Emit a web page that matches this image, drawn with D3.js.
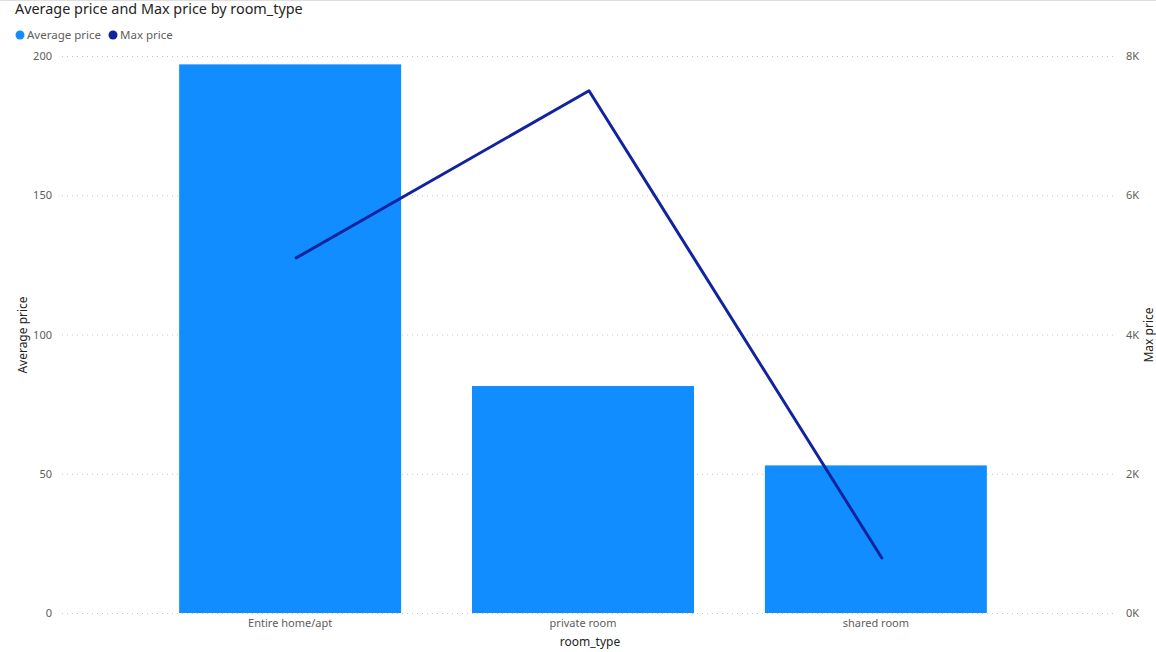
<!DOCTYPE html>
<html>
<head>
<meta charset="utf-8">
<title>Average price and Max price by room_type</title>
<script src="https://cdn.jsdelivr.net/npm/d3@7"></script>
<style>
  body { margin: 0; background: #fff; font-family: "Segoe UI", "Noto Sans", "Open Sans", sans-serif; }
  svg text { font-family: "Segoe UI", "Noto Sans", "Open Sans", sans-serif; }
  .tick text { fill: #605E5C; font-size: 11px; }
  .grid line { stroke: #C8C6C4; stroke-dasharray: 1 4; }
</style>
</head>
<body>
<div id="chart"></div>
<script>
// data
var roomTypes = ["Entire home/apt", "private room", "shared room"];
var avgPrice = [197, 81.5, 53];
var maxPrice = [5100, 7500, 790];
var avgTicks = [0, 50, 100, 150, 200];
var maxTicks = [0, 2000, 4000, 6000, 8000];

var W = 1156, H = 652;
var plotLeft = 62, plotRight = 1117, plotTop = 56, plotBottom = 613;

var svg = d3.select("#chart").append("svg")
  .attr("width", W)
  .attr("height", H);

// top border
svg.append("line")
  .attr("x1", 0).attr("x2", W).attr("y1", 0.5).attr("y2", 0.5)
  .attr("stroke", "#E1DFDD");

var x = d3.scaleBand()
  .domain(roomTypes)
  .range([plotLeft, 1104])
  .paddingInner(0.242)
  .paddingOuter(0.4);

var yL = d3.scaleLinear().domain([0, 200]).range([plotBottom, plotTop]);
var yR = d3.scaleLinear().domain([0, 8000]).range([plotBottom, plotTop]);

// gridlines
svg.append("g").attr("class", "grid")
  .selectAll("line")
  .data(avgTicks)
  .enter().append("line")
  .attr("x1", plotLeft).attr("x2", plotRight)
  .attr("y1", function(d) { return yL(d) + 0.5; })
  .attr("y2", function(d) { return yL(d) + 0.5; });

// bars
svg.selectAll(".bar")
  .data(roomTypes)
  .enter().append("rect")
  .attr("class", "bar")
  .attr("x", function(d) { return x(d); })
  .attr("width", x.bandwidth())
  .attr("y", function(d, i) { return yL(avgPrice[i]); })
  .attr("height", function(d, i) { return plotBottom - yL(avgPrice[i]); })
  .attr("fill", "#118DFF");

// line
var line = d3.line()
  .x(function(d, i) { return x(roomTypes[i]) + x.bandwidth() / 2 + 6; })
  .y(function(d) { return yR(d); });

svg.append("path")
  .datum(maxPrice)
  .attr("d", line)
  .attr("fill", "none")
  .attr("stroke", "#12239E")
  .attr("stroke-width", 3)
  .attr("stroke-linejoin", "round")
  .attr("stroke-linecap", "round");

// axes
var leftAxis = svg.append("g")
  .attr("transform", "translate(52,0)")
  .call(d3.axisLeft(yL).tickValues(avgTicks).tickSize(0).tickPadding(0));
leftAxis.select(".domain").remove();

var rightAxis = svg.append("g")
  .attr("transform", "translate(1126,0)")
  .call(d3.axisRight(yR).tickValues(maxTicks).tickSize(0).tickPadding(0)
    .tickFormat(function(d) { return (d / 1000) + "K"; }));
rightAxis.select(".domain").remove();

var bottomAxis = svg.append("g")
  .attr("transform", "translate(0," + (plotBottom + 4) + ")")
  .call(d3.axisBottom(x).tickSize(0).tickPadding(0));
bottomAxis.select(".domain").remove();
bottomAxis.selectAll("text").attr("dy", "0.9em");

svg.selectAll(".tick text").style("font-family", null);

// axis titles
svg.append("text")
  .attr("x", 590).attr("y", 646)
  .attr("text-anchor", "middle")
  .attr("fill", "#252423")
  .style("font-size", "12px")
  .text("room_type");

svg.append("text")
  .attr("transform", "translate(27,335) rotate(-90)")
  .attr("text-anchor", "middle")
  .attr("fill", "#252423")
  .style("font-size", "12px")
  .text("Average price");

svg.append("text")
  .attr("transform", "translate(1153,335) rotate(-90)")
  .attr("text-anchor", "middle")
  .attr("fill", "#252423")
  .style("font-size", "12px")
  .text("Max price");

// title
svg.append("text")
  .attr("x", 15).attr("y", 14)
  .attr("fill", "#252423")
  .style("font-size", "14.4px")
  .text("Average price and Max price by room_type");

// legend
var legendNames = ["Average price", "Max price"];
var legendColors = ["#118DFF", "#12239E"];
var lx = 20;
legendNames.forEach(function(name, i) {
  var g = svg.append("g").attr("transform", "translate(" + lx + ",35)");
  g.append("circle").attr("r", 4.5).attr("fill", legendColors[i]);
  var t = g.append("text")
    .attr("x", 7).attr("dy", "0.35em")
    .attr("fill", "#605E5C")
    .style("font-size", "11.5px")
    .text(name);
  lx += 7 + t.node().getComputedTextLength() + 12;
});
</script>
</body>
</html>
